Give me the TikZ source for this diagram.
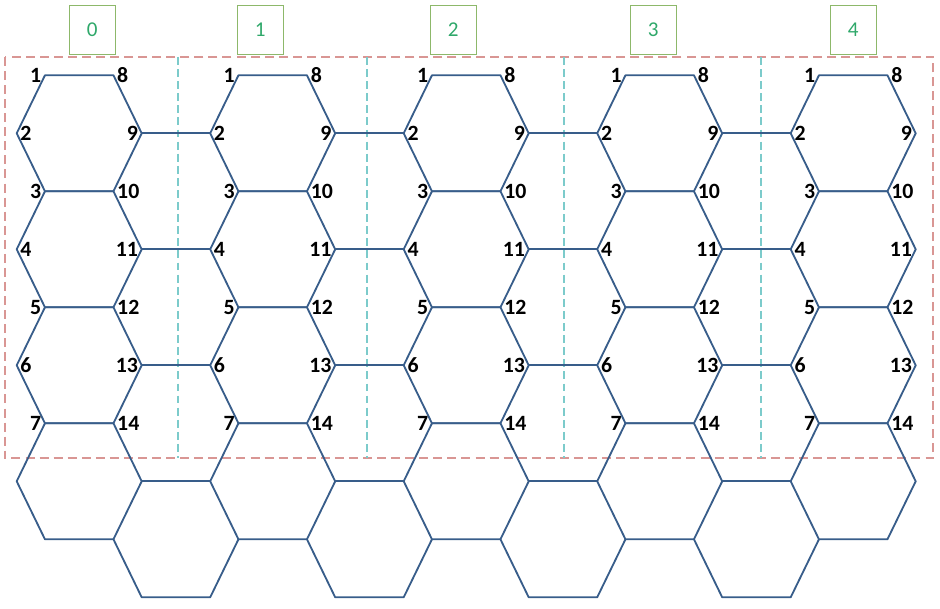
\documentclass[tikz,border=0pt]{standalone}
\usepackage{fontspec}
\setmainfont{Carlito}
\definecolor{hexblue}{HTML}{385D8A}
\definecolor{framered}{HTML}{D99694}
\definecolor{splitcyan}{HTML}{7CCBCB}
\definecolor{boxgreen}{HTML}{8DB86A}
\definecolor{numgreen}{HTML}{2FA86A}
\begin{document}
\begin{tikzpicture}[x=0.025cm, y=-0.025cm,
  hex/.style={draw=hexblue, line width=1.3pt, line join=round},
  frame/.style={draw=framered, line width=1.4pt, dash pattern=on 6.4pt off 3.6pt},
  split/.style={draw=splitcyan, line width=1.2pt, dash pattern=on 5.6pt off 3pt},
  colbox/.style={draw=boxgreen, line width=0.8pt, minimum width=1.15cm, minimum height=1.225cm,
    inner sep=0pt, text=numgreen, font=\fontsize{15}{18}\selectfont},
  vlbl/.style={font=\fontsize{15.5}{18}\selectfont\bfseries, inner sep=2.5pt}]
\useasboundingbox (0,0) rectangle (940,609);
\draw[frame] (5,57) rectangle (933.3,458.3) ;
\foreach \x in {178.3, 366.7, 564, 761.3}
  \draw[split] (\x,57) -- (\x,458.3) ;
\foreach \k/\x in {0/92.3, 1/260.3, 2/453.2, 3/653.3, 4/853.3}
  \node[colbox] (k\k) at (\x,29.7) {\k} ;
\foreach \c in {0,...,4} {
  \pgfmathsetmacro\xl{16.7+193.5*\c}
  \foreach \v/\dx/\y in {1/28.25/75.3, 2/0/133.3, 3/28.25/191.3, 4/0/249.3,
                         5/28.25/307.3, 6/0/365.3, 7/28.25/423.3,
                         8/96.75/75.3, 9/125/133.3, 10/96.75/191.3, 11/125/249.3,
                         12/96.75/307.3, 13/125/365.3, 14/96.75/423.3,
                         15/125/481.3, 16/96.75/539.3, 17/28.25/539.3, 18/0/481.3}
    \coordinate (c\c-\v) at (\xl+\dx,\y) ;
  \coordinate (m\c-l) at (\xl+125,597.3) ;
  \coordinate (m\c-r) at (\xl+193.5,597.3) ;
}
\foreach \c in {0,...,4} {
  \draw[hex] (c\c-1) -- (c\c-8) -- (c\c-9) -- (c\c-10) -- (c\c-3) -- (c\c-2) -- cycle ;
  \draw[hex] (c\c-3) -- (c\c-10) -- (c\c-11) -- (c\c-12) -- (c\c-5) -- (c\c-4) -- cycle ;
  \draw[hex] (c\c-5) -- (c\c-12) -- (c\c-13) -- (c\c-14) -- (c\c-7) -- (c\c-6) -- cycle ;
  \draw[hex] (c\c-7) -- (c\c-14) -- (c\c-15) -- (c\c-16) -- (c\c-17) -- (c\c-18) -- cycle ;
  \foreach \v/\side in {1/left, 2/right, 3/left, 4/right, 5/left, 6/right, 7/left,
                        8/right, 9/left, 10/right, 11/left, 12/right, 13/left, 14/right}
    \node[vlbl, \side] (l\c-\v) at (c\c-\v) {\v} ;
}
\foreach \c [evaluate=\c as \n using int(\c+1)] in {0,...,3} {
  \draw[hex] (c\c-9) -- (c\n-2) ;
  \draw[hex] (c\c-11) -- (c\n-4) ;
  \draw[hex] (c\c-13) -- (c\n-6) ;
  \draw[hex] (c\c-15) -- (c\n-18) ;
  \draw[hex] (c\c-16) -- (m\c-l) -- (m\c-r) -- (c\n-17) ;
}
\end{tikzpicture}
\end{document}
